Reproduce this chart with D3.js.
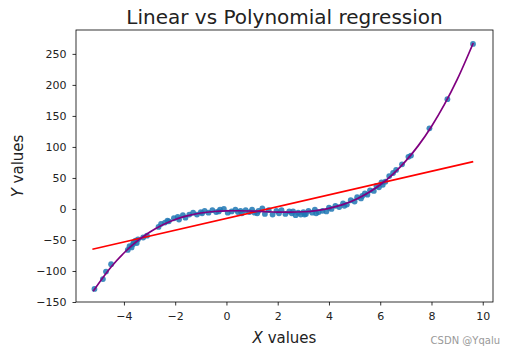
<!DOCTYPE html>
<html><head><meta charset="utf-8">
<script src="https://cdn.jsdelivr.net/npm/d3@7/dist/d3.min.js"></script>
<style>body{margin:0;background:#fff}svg{display:block}</style>
</head><body>
<svg id="c" width="516" height="355"></svg>
<script>
const pointX = [-5.15,-4.82,-4.70,-4.50,-3.85,-3.78,-3.70,-3.65,-3.62,-3.55,-3.50,-3.45,-3.25,-3.10,
 -2.65,-2.55,-2.40,-2.30,-2.25,-2.05,-1.90,-1.85,-1.70,-1.60,-1.45,-1.30,-1.15,-1.00,-0.95,-0.85,-0.70,-0.55,-0.40,-0.30,-0.25,-0.10,
 0.05,0.20,0.35,0.45,0.55,0.60,0.75,0.90,1.00,1.10,1.20,1.25,1.40,1.50,1.65,1.80,1.95,
 2.05,2.15,2.30,2.45,2.55,2.60,2.70,2.80,2.90,3.00,3.05,3.10,3.20,3.35,3.45,3.50,3.60,3.75,3.90,
 4.00,4.10,4.25,4.40,4.55,4.60,4.70,4.85,5.00,5.10,5.25,5.30,5.40,5.50,5.60,5.75,5.85,5.95,
 6.05,6.10,6.20,6.35,6.50,6.62,6.85,7.10,7.20,7.92,8.62,9.62];
const pointY = [-129,-113,-101,-89,-66,-60,-62,-57,-54,-51,-55,-49,-46,-43,
 -29,-24,-22,-19,-20,-15,-13,-17,-10,-14,-9,-6,-9,-5,-7,-3,-6,-2,-5,-4,-1,0,
 -6,-4,-1,-5,-3,-7,-2,-5,-1,-6,-7,-3,1,-8,-2,-9,-3,
 -7,-2,-8,-4,-7,-4,-10,-6,-9,-5,-9,-8,-3,-6,-1,-7,-5,-3,-4,
 2,0,5,3,9,5,7,14,12,19,17,21,25,23,30,29,37,35,
 43,39,44,53,58,63,72,84,86,130,177,266];
const linearX = [-5.23, 9.63];
const linearY = [-65, 76.3];
const polyX = [-5.2,-4.5,-4,-3.5,-3,-2.5,-2,-1.5,-1,-0.5,0,0.5,1,1.5,2,2.5,3,3.5,4,4.5,5,5.5,6,6.5,7,7.5,8,8.5,9,9.63];
const polyY = [-132.6,-93.6,-71,-52.4,-37.5,-25.8,-17,-10.7,-6.5,-4.1,-3,-2.9,-3.5,-4.3,-5,-5.2,-4.5,-2.6,1,6.6,14.5,25.2,39,56.3,77.5,102.9,133,168.1,208.5,267.6];
const xTicks = [-4,-2,0,2,4,6,8,10];
const yTicks = [-150,-100,-50,0,50,100,150,200,250];

const svg = d3.select("#c");
const L = 76, R = 493, T = 30, B = 302;
const x = d3.scaleLinear().domain([-5.87, 10.4]).range([L, R]);
const y = d3.scaleLinear().domain([-150, 288.5]).range([B, T]);
const font = "DejaVu Sans, sans-serif";
const ink = "#222";

const fmt = d => (d < 0 ? "\u2212" + Math.abs(d) : "" + d);

const gx = svg.append("g").attr("transform", `translate(0,${B})`)
  .call(d3.axisBottom(x).tickValues(xTicks).tickFormat(fmt).tickSize(3.5).tickPadding(7));
const gy = svg.append("g").attr("transform", `translate(${L},0)`)
  .call(d3.axisLeft(y).tickValues(yTicks).tickFormat(fmt).tickSize(3.5).tickPadding(6));
[gx, gy].forEach(g => {
  g.select(".domain").remove();
  g.selectAll("line").attr("stroke", "#000").attr("stroke-width", 0.8);
  g.selectAll("text").attr("font-family", font).attr("font-size", 11).attr("fill", ink);
});

const pts = pointX.map((v, i) => [v, pointY[i]]);
svg.append("g").selectAll("circle").data(pts).join("circle")
  .attr("cx", d => x(d[0])).attr("cy", d => y(d[1])).attr("r", 2.9)
  .attr("fill", "#1f77b4").attr("fill-opacity", 0.85);

const line = d3.line().x(d => x(d[0])).y(d => y(d[1]));
svg.append("path").datum(linearX.map((v, i) => [v, linearY[i]]))
  .attr("d", line).attr("fill", "none").attr("stroke", "#ff0000").attr("stroke-width", 1.6);
svg.append("path").datum(polyX.map((v, i) => [v, polyY[i]]))
  .attr("d", d3.line().curve(d3.curveMonotoneX).x(d => x(d[0])).y(d => y(d[1])))
  .attr("fill", "none").attr("stroke", "#800080").attr("stroke-width", 1.7);

svg.append("rect").attr("x", L).attr("y", T).attr("width", R - L).attr("height", B - T)
  .attr("fill", "none").attr("stroke", "#000").attr("stroke-width", 0.8);

svg.append("text").attr("x", (L + R) / 2).attr("y", 23.5).attr("text-anchor", "middle")
  .attr("font-family", font).attr("font-size", 20).attr("fill", ink)
  .text("Linear vs Polynomial regression");

const xl = svg.append("text").attr("x", (L + R) / 2).attr("y", 343).attr("text-anchor", "middle")
  .attr("font-family", font).attr("font-size", 15).attr("fill", ink);
xl.append("tspan").attr("font-style", "italic").text("X");
xl.append("tspan").text(" values");

const yl = svg.append("text").attr("transform", `translate(22.5,${(T + B) / 2}) rotate(-90)`)
  .attr("text-anchor", "middle").attr("font-family", font).attr("font-size", 15).attr("fill", ink);
yl.append("tspan").attr("font-style", "italic").text("Y");
yl.append("tspan").text(" values");

svg.append("text").attr("x", 500).attr("y", 344).attr("text-anchor", "end")
  .attr("font-family", font).attr("font-size", 10).attr("fill", "#999").text("CSDN @Yqalu");
</script>
</body></html>
